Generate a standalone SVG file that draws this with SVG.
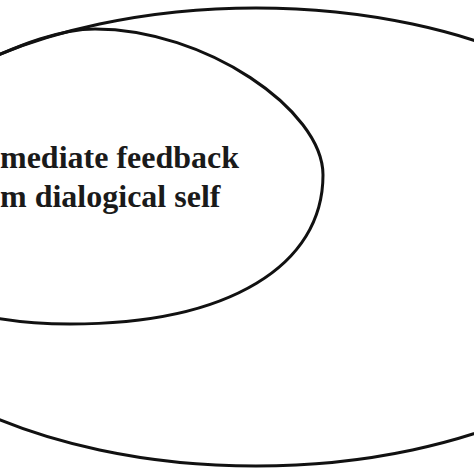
<svg xmlns="http://www.w3.org/2000/svg" width="474" height="474" viewBox="0 0 474 474">
<style>
.ring{fill:none;stroke:#111;stroke-width:3}
.lbl{font-family:"Liberation Serif","Times New Roman",serif;font-weight:bold;font-size:32px;fill:#1a1a1a}
</style>
<rect width="474" height="474" fill="#fff"/>
<g id="outer">
<ellipse class="ring" cx="256" cy="237" rx="425" ry="229"/>
</g>
<g id="inner">
<path class="ring" d="M -15,61 C 20,45 60,29 95,29 C 205,29 323,110 323,175 C 323,265 230,324 70,324 C 40,324 10,321 -15,316"/>
<text class="lbl" x="0" y="168">mediate feedback</text>
<text class="lbl" x="0" y="207">m dialogical self</text>
</g>
</svg>
